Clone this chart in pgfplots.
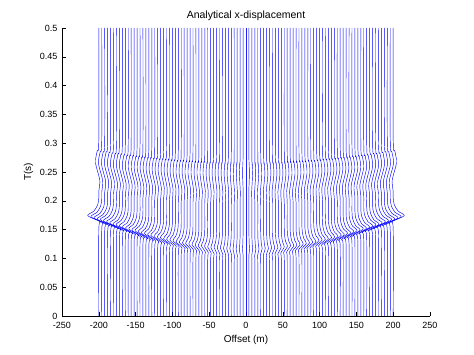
\documentclass[border=0pt]{standalone}
\usepackage{fontspec}
\setmainfont{Liberation Sans}
\usepackage{pgfplots}
\pgfplotsset{compat=1.18}
\pgfplotsset{tr/.style={color=blue, line width=0.45pt, smooth, mark=none}}
\newcommand{\traces}{%
\addplot[tr] coordinates {(0,0)(0,.5)};
\addplot[tr] coordinates {(4,0)(4,.093)(3.9,.105)(4.8,.116)(4.4,.124)(4.1,.135)(4,.147)(4,.195)(3.8,.215)(4.6,.245)(4.3,.265)(4,.285)(4,.5)};
\addplot[tr] coordinates {(8,0)(8,.093)(7.8,.105)(9.1,.116)(8.5,.124)(8.1,.135)(8,.147)(8,.195)(7.7,.215)(8.9,.245)(8.5,.265)(8,.285)(8,.5)};
\addplot[tr] coordinates {(12,0)(12,.093)(11.8,.105)(13.4,.116)(12.6,.124)(12.1,.135)(12,.147)(12,.195)(11.7,.215)(13.1,.245)(12.6,.265)(12,.285)(12,.5)};
\addplot[tr] coordinates {(16,0)(16,.093)(15.7,.105)(17.7,.116)(16.8,.124)(16.2,.135)(16,.147)(16,.195)(15.6,.215)(17.3,.245)(16.6,.265)(16,.285)(16,.5)};
\addplot[tr] coordinates {(20,0)(20,.094)(19.6,.106)(22,.117)(20.9,.125)(20.2,.136)(20,.148)(20,.195)(19.6,.215)(21.4,.245)(20.7,.265)(20,.285)(20,.5)};
\addplot[tr] coordinates {(24,0)(24,.094)(23.6,.106)(26.2,.117)(25,.125)(24.2,.136)(24,.148)(24,.195)(23.5,.215)(25.6,.245)(24.8,.265)(24,.285)(24,.5)};
\addplot[tr] coordinates {(28,0)(28,.094)(27.5,.106)(30.5,.117)(29.1,.125)(28.3,.136)(28,.148)(28,.195)(27.5,.215)(29.7,.245)(28.8,.265)(28,.285)(28,.5)};
\addplot[tr] coordinates {(32,0)(32,.095)(31.5,.107)(34.8,.118)(33.3,.126)(32.3,.137)(32,.149)(32,.196)(31.5,.216)(33.8,.246)(32.9,.266)(32,.286)(32,.5)};
\addplot[tr] coordinates {(36,0)(36,.095)(35.4,.107)(39.1,.118)(37.4,.126)(36.3,.137)(36,.149)(36,.196)(35.4,.216)(37.9,.246)(37,.266)(36,.286)(36,.5)};
\addplot[tr] coordinates {(40,0)(40,.096)(39.4,.108)(43.4,.119)(41.5,.127)(40.3,.138)(40,.15)(40,.196)(39.4,.216)(42,.246)(41,.266)(40,.286)(40,.5)};
\addplot[tr] coordinates {(44,0)(44,.096)(43.3,.108)(47.7,.119)(45.7,.127)(44.4,.138)(44,.15)(44,.196)(43.4,.216)(46.1,.246)(45.1,.266)(44,.286)(44,.5)};
\addplot[tr] coordinates {(48,0)(48,.097)(47.3,.109)(52,.12)(49.8,.128)(48.4,.139)(48,.151)(48,.196)(47.3,.216)(50.2,.246)(49.1,.266)(48,.286)(48,.5)};
\addplot[tr] coordinates {(52,0)(52,.098)(51.2,.11)(56.3,.121)(53.9,.129)(52.4,.14)(52,.152)(52,.196)(51.3,.216)(54.3,.246)(53.1,.266)(52,.286)(52,.5)};
\addplot[tr] coordinates {(56,0)(56,.099)(55.2,.111)(60.6,.122)(58.1,.13)(56.5,.141)(56,.153)(56,.197)(55.3,.217)(58.4,.247)(57.2,.267)(56,.287)(56,.5)};
\addplot[tr] coordinates {(60,0)(60,.099)(59.1,.111)(64.9,.122)(62.2,.13)(60.5,.141)(60,.153)(60,.197)(59.3,.217)(62.5,.247)(61.2,.267)(60,.287)(60,.5)};
\addplot[tr] coordinates {(64,0)(64,.1)(63.1,.112)(69.1,.123)(66.3,.131)(64.5,.142)(64,.154)(64,.197)(63.2,.217)(66.6,.247)(65.3,.267)(64,.287)(64,.5)};
\addplot[tr] coordinates {(68,0)(68,.101)(67,.113)(73.4,.124)(70.4,.132)(68.5,.143)(68,.155)(68,.197)(67.2,.217)(70.6,.247)(69.3,.267)(68,.287)(68,.5)};
\addplot[tr] coordinates {(72,0)(72,.102)(71,.114)(77.7,.125)(74.6,.133)(72.6,.144)(72,.156)(72,.198)(71.2,.218)(74.7,.248)(73.4,.268)(72,.288)(72,.5)};
\addplot[tr] coordinates {(76,0)(76,.103)(74.9,.115)(82,.126)(78.7,.134)(76.6,.145)(76,.157)(76,.198)(75.2,.218)(78.8,.248)(77.4,.268)(76,.288)(76,.5)};
\addplot[tr] coordinates {(80,0)(80,.104)(78.9,.116)(86.3,.127)(82.8,.135)(80.6,.146)(80,.158)(80,.198)(79.2,.218)(82.9,.248)(81.4,.268)(80,.288)(80,.5)};
\addplot[tr] coordinates {(84,0)(84,.105)(82.8,.117)(90.6,.128)(87,.136)(84.7,.147)(84,.159)(84,.199)(83.1,.219)(86.9,.249)(85.5,.269)(84,.289)(84,.5)};
\addplot[tr] coordinates {(88,0)(88,.106)(86.8,.118)(94.9,.129)(91.1,.137)(88.7,.148)(88,.16)(88,.199)(87.1,.219)(91,.249)(89.5,.269)(88,.289)(88,.5)};
\addplot[tr] coordinates {(92,0)(92,.108)(90.7,.12)(99.2,.131)(95.2,.139)(92.7,.15)(92,.162)(92,.199)(91.1,.219)(95.1,.249)(93.5,.269)(92,.289)(92,.5)};
\addplot[tr] coordinates {(96,0)(96,.109)(94.7,.121)(103.5,.132)(99.4,.14)(96.8,.151)(96,.163)(96,.2)(95.1,.22)(99.1,.25)(97.6,.27)(96,.29)(96,.5)};
\addplot[tr] coordinates {(100,0)(100,.11)(98.6,.122)(107.8,.133)(103.5,.141)(100.8,.152)(100,.164)(100,.2)(99.1,.22)(103.2,.25)(101.6,.27)(100,.29)(100,.5)};
\addplot[tr] coordinates {(104,0)(104,.111)(102.6,.123)(112,.134)(107.6,.142)(104.8,.153)(104,.165)(104,.201)(103,.221)(107.2,.251)(105.6,.271)(104,.291)(104,.5)};
\addplot[tr] coordinates {(108,0)(108,.113)(106.5,.125)(116.3,.136)(111.8,.144)(108.8,.155)(108,.167)(108,.201)(107,.221)(111.3,.251)(109.7,.271)(108,.291)(108,.5)};
\addplot[tr] coordinates {(112,0)(112,.114)(110.5,.126)(120.6,.137)(115.9,.145)(112.9,.156)(112,.168)(112,.202)(111,.222)(115.4,.252)(113.7,.272)(112,.292)(112,.5)};
\addplot[tr] coordinates {(116,0)(116,.115)(114.4,.127)(124.9,.138)(120,.146)(116.9,.157)(116,.169)(116,.202)(115,.222)(119.4,.252)(117.7,.272)(116,.292)(116,.5)};
\addplot[tr] coordinates {(120,0)(120,.117)(118.3,.129)(129.2,.14)(124.1,.148)(120.9,.159)(120,.171)(120,.203)(119,.223)(123.5,.253)(121.7,.273)(120,.293)(120,.5)};
\addplot[tr] coordinates {(124,0)(124,.118)(122.3,.13)(133.5,.141)(128.3,.149)(125,.16)(124,.172)(124,.203)(122.9,.223)(127.5,.253)(125.8,.273)(124,.293)(124,.5)};
\addplot[tr] coordinates {(128,0)(128,.12)(126.2,.132)(137.8,.143)(132.4,.151)(129,.162)(128,.174)(128,.204)(126.9,.224)(131.6,.254)(129.8,.274)(128,.294)(128,.5)};
\addplot[tr] coordinates {(132,0)(132,.121)(130.2,.133)(142.1,.144)(136.5,.152)(133,.163)(132,.175)(132,.204)(130.9,.224)(135.7,.254)(133.8,.274)(132,.294)(132,.5)};
\addplot[tr] coordinates {(136,0)(136,.123)(134.1,.135)(146.4,.146)(140.7,.154)(137,.165)(136,.177)(136,.205)(134.9,.225)(139.7,.255)(137.9,.275)(136,.295)(136,.5)};
\addplot[tr] coordinates {(140,0)(140,.125)(138.1,.137)(150.7,.148)(144.8,.156)(141.1,.167)(140,.179)(140,.205)(138.9,.225)(143.8,.255)(141.9,.275)(140,.295)(140,.5)};
\addplot[tr] coordinates {(144,0)(144,.126)(142,.138)(154.9,.149)(148.9,.157)(145.1,.168)(144,.18)(144,.206)(142.9,.226)(147.8,.256)(145.9,.276)(144,.296)(144,.5)};
\addplot[tr] coordinates {(148,0)(148,.128)(146,.14)(159.2,.151)(153.1,.159)(149.1,.17)(148,.182)(148,.206)(146.8,.226)(151.9,.256)(149.9,.276)(148,.296)(148,.5)};
\addplot[tr] coordinates {(152,0)(152,.129)(149.9,.141)(163.5,.152)(157.2,.16)(153.2,.171)(152,.183)(152,.207)(150.8,.227)(155.9,.257)(154,.277)(152,.297)(152,.5)};
\addplot[tr] coordinates {(156,0)(156,.131)(153.9,.143)(167.8,.154)(161.3,.162)(157.2,.173)(156,.185)(156,.208)(154.8,.228)(160,.258)(158,.278)(156,.298)(156,.5)};
\addplot[tr] coordinates {(160,0)(160,.133)(157.8,.145)(172.1,.156)(165.5,.164)(161.2,.175)(160,.187)(160,.208)(158.8,.228)(164,.258)(162,.278)(160,.298)(160,.5)};
\addplot[tr] coordinates {(164,0)(164,.135)(161.8,.147)(176.4,.158)(169.6,.166)(165.2,.177)(164,.189)(164,.209)(162.8,.229)(168.1,.259)(166,.279)(164,.299)(164,.5)};
\addplot[tr] coordinates {(168,0)(168,.136)(165.7,.148)(180.7,.159)(173.7,.167)(169.3,.178)(168,.19)(168,.21)(166.8,.23)(172.1,.26)(170.1,.28)(168,.3)(168,.5)};
\addplot[tr] coordinates {(172,0)(172,.138)(169.7,.15)(185,.161)(177.8,.169)(173.3,.18)(172,.192)(172,.211)(170.8,.231)(176.2,.261)(174.1,.281)(172,.301)(172,.5)};
\addplot[tr] coordinates {(176,0)(176,.14)(173.6,.152)(189.3,.163)(182,.171)(177.3,.182)(176,.194)(176,.211)(174.7,.231)(180.2,.261)(178.1,.281)(176,.301)(176,.5)};
\addplot[tr] coordinates {(180,0)(180,.142)(177.6,.154)(193.6,.165)(186.1,.173)(181.4,.184)(180,.196)(180,.212)(178.7,.232)(184.3,.262)(182.1,.282)(180,.302)(180,.5)};
\addplot[tr] coordinates {(184,0)(184,.144)(181.5,.156)(197.8,.167)(190.2,.175)(185.4,.186)(184,.198)(184,.213)(182.7,.233)(188.3,.263)(186.2,.283)(184,.303)(184,.5)};
\addplot[tr] coordinates {(188,0)(188,.145)(185.5,.157)(202.1,.168)(194.4,.176)(189.4,.187)(188,.199)(188,.214)(186.7,.234)(192.4,.264)(190.2,.284)(188,.304)(188,.5)};
\addplot[tr] coordinates {(192,0)(192,.147)(189.4,.159)(206.4,.17)(198.5,.178)(193.4,.189)(192,.201)(192,.214)(190.7,.234)(196.4,.264)(194.2,.284)(192,.304)(192,.5)};
\addplot[tr] coordinates {(196,0)(196,.149)(193.4,.161)(210.7,.172)(202.6,.18)(197.5,.191)(196,.203)(196,.215)(194.7,.235)(200.5,.265)(198.2,.285)(196,.305)(196,.5)};
\addplot[tr] coordinates {(200,0)(200,.151)(197.3,.163)(215,.174)(206.8,.182)(201.5,.193)(200,.205)(200,.216)(198.7,.236)(204.5,.266)(202.3,.286)(200,.306)(200,.5)};
}
\begin{document}
\begin{tikzpicture}
\begin{axis}[name=main,
  scale only axis, width=368pt, height=288pt,
  xmin=-250, xmax=250, ymin=0, ymax=0.5,
  axis x line*=bottom, axis y line*=left,
  axis line style={-, black, line width=0.5pt},
  tick align=inside, major tick length=3.7pt,
  tick style={black, line width=0.5pt},
  xtick={-250,-200,-150,-100,-50,0,50,100,150,200,250},
  ytick={0,0.05,0.1,0.15,0.2,0.25,0.3,0.35,0.4,0.45,0.5},
  scaled ticks=false,
  yticklabel style={/pgf/number format/fixed, /pgf/number format/precision=2, xshift=-1pt},
  xticklabel style={yshift=-3pt},
  /pgf/number format/assume math mode=true,
  ticklabel style={font=\fontsize{9}{10}\selectfont},
  label style={font=\fontsize{10}{12}\selectfont},
  xlabel style={yshift=1pt},
  title style={font=\fontsize{10.5}{12}\selectfont, yshift=-2pt},
  title={Analytical x-displacement},
  xlabel={Offset (m)}, ylabel={T(s)}]
\traces
\end{axis}
\begin{axis}[scale only axis, width=368pt, height=288pt,
  xmin=-250, xmax=250, ymin=0, ymax=0.5, x dir=reverse, hide axis]
\traces
\end{axis}
\path ([shift={(-62pt,-39pt)}]main.south west) rectangle ([shift={(44pt,28pt)}]main.north east);
\end{tikzpicture}
\end{document}
